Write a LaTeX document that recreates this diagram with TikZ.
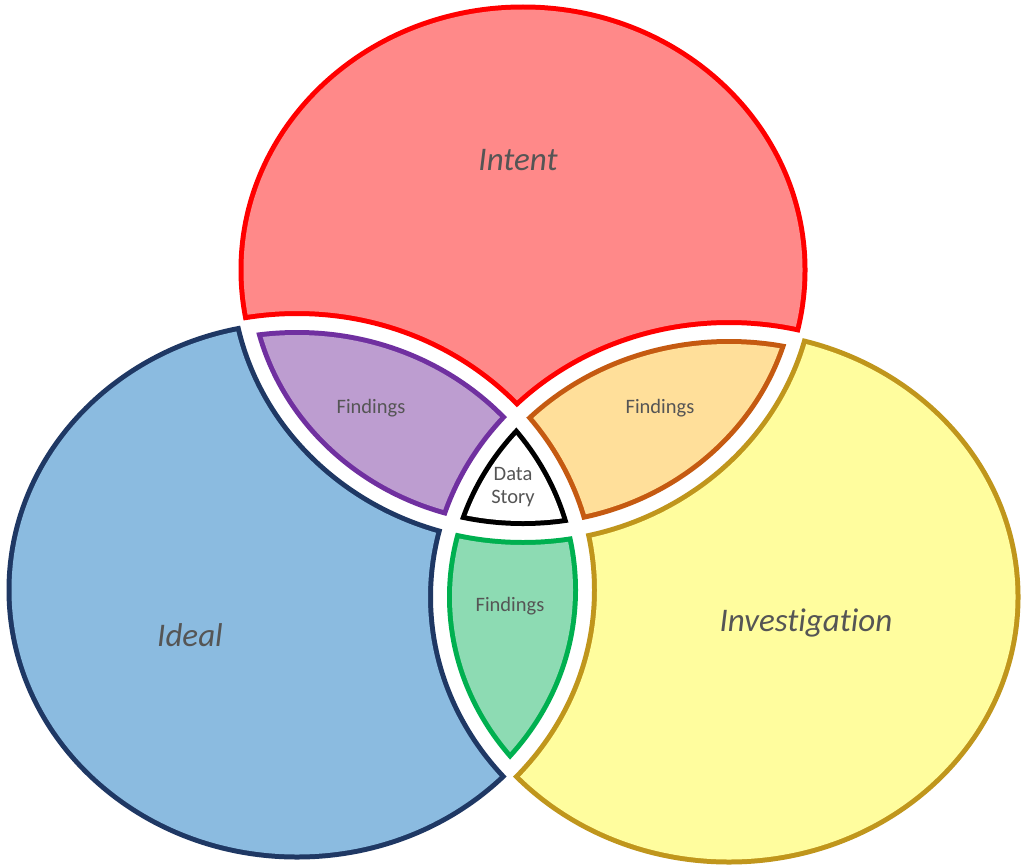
\documentclass[tikz,border=0pt]{standalone}
\usepackage{fontspec}
\setmainfont{Carlito}[Ligatures=NoCommon]
\definecolor{intentfill}{HTML}{FF8989}
\definecolor{intentline}{HTML}{FF0000}
\definecolor{idealfill}{HTML}{8BBBE0}
\definecolor{idealline}{HTML}{1F3864}
\definecolor{investfill}{HTML}{FFFD9E}
\definecolor{investline}{HTML}{C0961C}
\definecolor{rbfill}{HTML}{BD9DD0}
\definecolor{rbline}{HTML}{7030A0}
\definecolor{ryfill}{HTML}{FFDF9A}
\definecolor{ryline}{HTML}{C55A11}
\definecolor{byfill}{HTML}{8DDBB3}
\definecolor{byline}{HTML}{00B050}
\definecolor{labeltext}{HTML}{555555}
% the three sets, #1 = change of the radii
\newcommand\ellR[1]{(523,270) ellipse [x radius=282#1, y radius=263#1]}
\newcommand\ellB[1]{(297,590) ellipse [x radius=288#1, y radius=267#1]}
\newcommand\ellY[1]{(729,597) ellipse [x radius=289#1, y radius=265#1]}
\newcommand\vinside[1]{\clip #1;}
\newcommand\voutside[1]{\clip (-50,-50) rectangle (1074,917) #1;}
\newcommand\vennpart[4]{%
	\begin{scope}[even odd rule]#1\fill[#3] (0,0) rectangle (1024,867);\end{scope}
	\begin{scope}[even odd rule]#2\fill[#4] (0,0) rectangle (1024,867);\end{scope}}
\tikzset{
	biglabel/.style={
		font=\fontsize{33}{40}\selectfont\itshape,
		text=labeltext},
	smalllabel/.style={
		font=\fontsize{20.5}{23}\selectfont,
		text=labeltext,
		align=center},
}
\begin{document}
\begin{tikzpicture}[x=1pt, y=-1pt]
	\fill[white, use as bounding box] (0,0) rectangle (1024,867);
	% sets on their own
	\vennpart{\vinside{\ellR{+2.5}}\voutside{\ellB{+7}}\voutside{\ellY{+7}}}
		{\vinside{\ellR{-2.5}}\voutside{\ellB{+12}}\voutside{\ellY{+12}}}
		{intentline}{intentfill}
	\vennpart{\vinside{\ellB{+2.5}}\voutside{\ellR{+7}}\voutside{\ellY{+7}}}
		{\vinside{\ellB{-2.5}}\voutside{\ellR{+12}}\voutside{\ellY{+12}}}
		{idealline}{idealfill}
	\vennpart{\vinside{\ellY{+2.5}}\voutside{\ellR{+7}}\voutside{\ellB{+7}}}
		{\vinside{\ellY{-2.5}}\voutside{\ellR{+12}}\voutside{\ellB{+12}}}
		{investline}{investfill}
	% overlaps
	\vennpart{\vinside{\ellR{-7}}\vinside{\ellB{-7}}\voutside{\ellY{+7}}}
		{\vinside{\ellR{-12}}\vinside{\ellB{-12}}\voutside{\ellY{+12}}}
		{rbline}{rbfill}
	\vennpart{\vinside{\ellR{-7}}\vinside{\ellY{-7}}\voutside{\ellB{+7}}}
		{\vinside{\ellR{-12}}\vinside{\ellY{-12}}\voutside{\ellB{+12}}}
		{ryline}{ryfill}
	\vennpart{\vinside{\ellB{-7}}\vinside{\ellY{-7}}\voutside{\ellR{+7}}}
		{\vinside{\ellB{-12}}\vinside{\ellY{-12}}\voutside{\ellR{+12}}}
		{byline}{byfill}
	\vennpart{\vinside{\ellR{-7}}\vinside{\ellB{-7}}\vinside{\ellY{-7}}}
		{\vinside{\ellR{-12}}\vinside{\ellB{-12}}\vinside{\ellY{-12}}}
		{black}{white}

	\node[biglabel] (intent) at (518,160) {Intent};
	\node[biglabel] (ideal) at (190,635) {Ideal};
	\node[biglabel] (investigation) at (806,623) {Investigation};
	\node[smalllabel] (findRB) at (371,408) {Findings};
	\node[smalllabel] (findRY) at (660,408) {Findings};
	\node[smalllabel] (findBY) at (510,606) {Findings};
	\node[smalllabel] (story) at (513,487) {Data\\Story};
\end{tikzpicture}
\end{document}
